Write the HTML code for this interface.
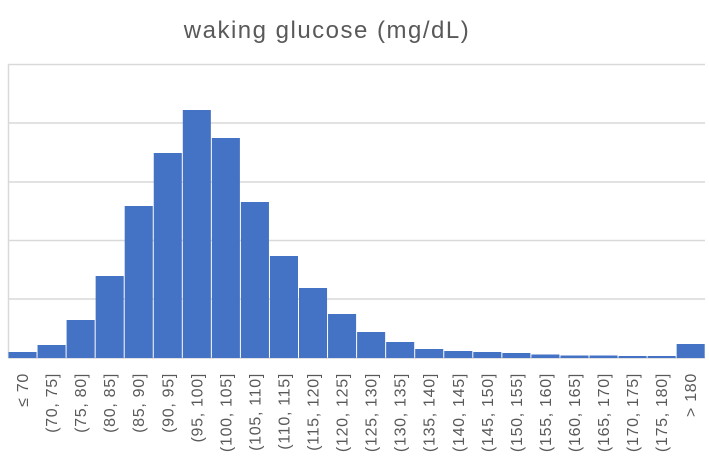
<!DOCTYPE html>
<html><head><style>body{margin:0;background:#fff}</style></head><body>
<svg width="709" height="461" xmlns="http://www.w3.org/2000/svg" font-family="Liberation Sans, sans-serif">
<rect width="709" height="461" fill="#fff"/>
<text x="327" y="38" text-anchor="middle" font-size="24" letter-spacing="1.5" fill="#595959">waking glucose (mg/dL)</text>
<g stroke="#d9d9d9" stroke-width="1.5">
<line x1="8" y1="64.5" x2="705" y2="64.5"/>
<line x1="8" y1="123" x2="705" y2="123"/>
<line x1="8" y1="182" x2="705" y2="182"/>
<line x1="8" y1="240.5" x2="705" y2="240.5"/>
<line x1="8" y1="299" x2="705" y2="299"/>
<line x1="8" y1="358" x2="705" y2="358"/>
<line x1="8.5" y1="64" x2="8.5" y2="358"/>
</g>
<g id="bars" fill="#4472c4"></g>
<g id="labels" font-size="16" letter-spacing="0.7" fill="#595959"></g>
<script>
var tops=[352,345,320,276,206,153,110,138,202,256,288,314,332,342,349,351,352,353,354.5,355.5,355.5,356,356,344];
var labs=["≤ 70","(70, 75]","(75, 80]","(80, 85]","(85, 90]","(90, 95]","(95, 100]","(100, 105]","(105, 110]","(110, 115]","(115, 120]","(120, 125]","(125, 130]","(130, 135]","(135, 140]","(140, 145]","(145, 150]","(150, 155]","(155, 160]","(160, 165]","(165, 170]","(170, 175]","(175, 180]","> 180"];
var b=document.getElementById('bars'),l=document.getElementById('labels'),ns="http://www.w3.org/2000/svg",w=29.05;
for(var i=0;i<24;i++){var x=8+i*w;var r=document.createElementNS(ns,'rect');r.setAttribute('x',x+0.5);r.setAttribute('y',tops[i]);r.setAttribute('width',w-1);r.setAttribute('height',358-tops[i]);b.appendChild(r);
var t=document.createElementNS(ns,'text');var cx=x+w/2+5.5;t.setAttribute('transform','translate('+cx+',373) rotate(-90)');t.setAttribute('text-anchor','end');t.textContent=labs[i];l.appendChild(t);}
</script>
</svg>
</body></html>
